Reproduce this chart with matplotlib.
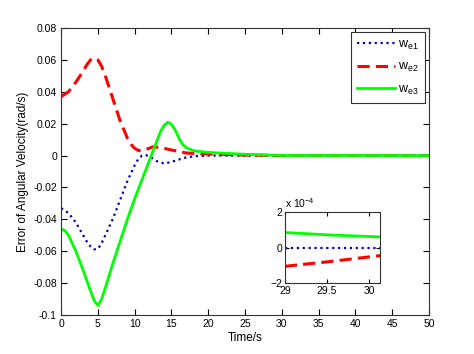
import matplotlib
matplotlib.use("Agg")
import matplotlib.pyplot as plt

plt.rcParams['font.family'] = ['Liberation Sans', 'DejaVu Sans']
plt.rcParams['mathtext.fontset'] = 'custom'
plt.rcParams['mathtext.rm'] = 'Liberation Sans'
plt.rcParams['mathtext.it'] = 'Liberation Sans'

# main curves
t1 = [0, 1, 2, 3, 3.5, 4, 4.5, 5, 5.5, 6, 7, 8, 9, 10, 10.5, 11, 11.5, 12, 12.5, 13, 14, 15, 16, 17, 18, 20, 25, 30, 50]
we1 = [-0.033, -0.036, -0.042, -0.050, -0.054, -0.057, -0.0588, -0.0585, -0.055, -0.050, -0.040, -0.028,
       -0.016, -0.006, -0.002, 0.000, 0.0003, -0.0005, -0.002, -0.0035, -0.005, -0.004, -0.0025, -0.0012,
       -0.0005, 0, 0, 0, 0]

t2 = [0, 1, 2, 3, 3.5, 4, 4.5, 5, 5.5, 6, 6.5, 7, 8, 9, 9.5, 10, 10.5, 11, 11.5, 12.5, 13.5, 15, 17, 20, 25, 30, 50]
we2 = [0.037, 0.040, 0.046, 0.053, 0.057, 0.060, 0.0612, 0.060, 0.056, 0.050, 0.043, 0.036, 0.022, 0.011,
       0.007, 0.0045, 0.0032, 0.003, 0.0038, 0.0055, 0.005, 0.0035, 0.0016, 0.001, 0.0003, 0, 0]

t3 = [0, 0.5, 1, 2, 3, 4, 4.5, 5, 5.5, 6, 7, 8, 9, 10, 11, 12, 13, 13.5, 14, 14.5, 15, 15.5, 16, 16.5, 17,
      18, 20, 22, 25, 30, 50]
we3 = [-0.046, -0.047, -0.050, -0.060, -0.072, -0.085, -0.091, -0.094, -0.090, -0.083, -0.068, -0.054,
       -0.040, -0.027, -0.015, -0.003, 0.009, 0.015, 0.019, 0.021, 0.0195, 0.016, 0.011, 0.007, 0.005,
       0.003, 0.002, 0.0015, 0.0008, 0.00007, 0]

# zoomed window (units of 1e-4)
tz = [29, 29.5, 30.13]
we1_z = [0, 0, 0]
we2_z = [-1.05, -0.8, -0.45]
we3_z = [0.85, 0.72, 0.6]

fig = plt.figure(figsize=(4.74, 3.54), dpi=100)
ax = fig.add_axes([0.129, 0.110, 0.776, 0.811])

ax.plot(t1, we1, color='#0000cc', linestyle=':', linewidth=1.6, label=r'w$_{e1}$')
ax.plot(t2, we2, color='#ff0000', linestyle=(0, (4, 2)), linewidth=2.2, label=r'w$_{e2}$')
ax.plot(t3, we3, color='#00ff00', linestyle='-', linewidth=2.0, label=r'w$_{e3}$')

ax.set_xlim(0, 50)
ax.set_ylim(-0.1, 0.08)
ax.set_xticks(range(0, 51, 5))
ax.set_yticks([-0.1, -0.08, -0.06, -0.04, -0.02, 0, 0.02, 0.04, 0.06, 0.08])
ax.set_yticklabels(['-0.1', '-0.08', '-0.06', '-0.04', '-0.02', '0', '0.02', '0.04', '0.06', '0.08'])
ax.tick_params(direction='in', top=True, right=True, labelsize=7.5, length=4, pad=3)
ax.set_xlabel('Time/s', fontsize=8.5, labelpad=2)
ax.set_ylabel('Error of Angular Velocity(rad/s)', fontsize=8.5, labelpad=3)
for s in ax.spines.values():
    s.set_linewidth(0.8)
    s.set_color('#333333')

leg = ax.legend(loc='upper right', fontsize=9, handlelength=3.0, borderpad=0.5,
                labelspacing=0.75, fancybox=False, edgecolor='#333333', framealpha=1,
                borderaxespad=0.35, handletextpad=0.25)
leg.get_frame().set_linewidth(0.8)

ins = fig.add_axes([0.601, 0.200, 0.201, 0.201])
ins.plot(tz, we1_z, color='#0000cc', linestyle=':', linewidth=1.6)
ins.plot(tz, we2_z, color='#ff0000', linestyle=(0, (4, 2)), linewidth=2.2)
ins.plot(tz, we3_z, color='#00ff00', linestyle='-', linewidth=2.0)
ins.set_xlim(29, 30.13)
ins.set_ylim(-2, 2)
ins.set_xticks([29, 29.5, 30])
ins.set_xticklabels(['29', '29.5', '30'])
ins.set_yticks([-2, 0, 2])
ins.tick_params(direction='in', top=True, right=True, labelsize=7.5, length=3, pad=2)
ins.text(0.0, 1.03, r'x 10$^{-4}$', transform=ins.transAxes, fontsize=7.5, ha='left', va='bottom')
for s in ins.spines.values():
    s.set_linewidth(0.8)
    s.set_color('#333333')

fig.savefig('out.png', dpi=100)
